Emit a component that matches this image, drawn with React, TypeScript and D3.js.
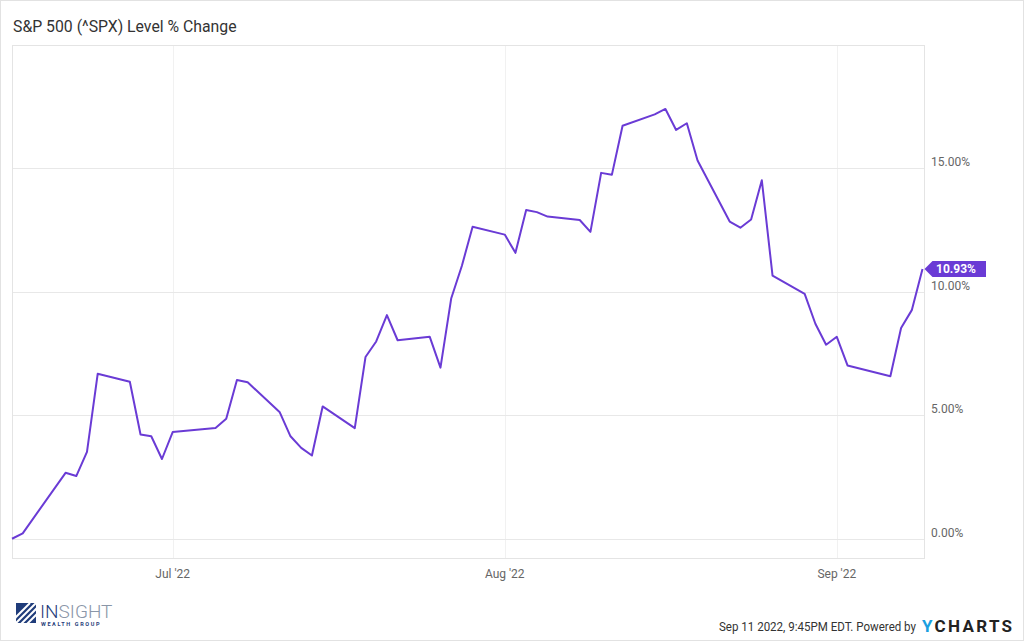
import React from "react";
import * as d3 from "d3";

const dates: string[] = [
  "2022-06-16","2022-06-17","2022-06-21","2022-06-22","2022-06-23","2022-06-24","2022-06-27","2022-06-28","2022-06-29","2022-06-30",
  "2022-07-01","2022-07-05","2022-07-06","2022-07-07","2022-07-08","2022-07-11","2022-07-12","2022-07-13","2022-07-14","2022-07-15",
  "2022-07-18","2022-07-19","2022-07-20","2022-07-21","2022-07-22","2022-07-25","2022-07-26","2022-07-27","2022-07-28","2022-07-29",
  "2022-08-01","2022-08-02","2022-08-03","2022-08-04","2022-08-05","2022-08-08","2022-08-09","2022-08-10","2022-08-11","2022-08-12",
  "2022-08-15","2022-08-16","2022-08-17","2022-08-18","2022-08-19","2022-08-22","2022-08-23","2022-08-24","2022-08-25","2022-08-26",
  "2022-08-29","2022-08-30","2022-08-31","2022-09-01","2022-09-02","2022-09-06","2022-09-07","2022-09-08","2022-09-09",
];
const pctChange: number[] = [
  0.0, 0.22, 2.67, 2.54, 3.52, 6.68, 6.36, 4.22, 4.15, 3.23,
  4.32, 4.49, 4.86, 6.43, 6.34, 5.12, 4.15, 3.68, 3.37, 5.36,
  4.48, 7.36, 7.99, 9.06, 8.04, 8.18, 6.93, 9.73, 11.06, 12.64,
  12.32, 11.58, 13.32, 13.23, 13.05, 12.91, 12.43, 14.82, 14.74, 16.73,
  17.19, 17.41, 16.56, 16.83, 15.32, 12.85, 12.60, 12.93, 14.52, 10.66,
  9.92, 8.71, 7.86, 8.18, 7.02, 6.58, 8.54, 9.26, 10.93,
];
const yTicks: number[] = [0, 5, 10, 15];
const xTicks: string[] = ["2022-07-01", "2022-08-01", "2022-09-01"];
const xTickLabels: string[] = ["Jul '22", "Aug '22", "Sep '22"];
const title = "S&P 500 (^SPX) Level % Change";
const lastLabel = "10.93%";

const W = 1024, H = 641;
const L = 12, R = 924, T = 45, B = 558;
const purple = "#6a3bd5";
const font = "Roboto, 'Noto Sans', sans-serif";

export default function App() {
  const parse = d3.utcParse("%Y-%m-%d");
  const data = dates.map((d, i) => ({ date: parse(d) as Date, v: pctChange[i] }));
  const x = d3.scaleUtc()
    .domain([parse("2022-06-16") as Date, parse("2022-09-09") as Date])
    .range([L, R - 1.5]);
  const y = d3.scaleLinear().domain([-0.78, 20]).range([B, T]);
  const line = d3.line<{ date: Date; v: number }>()
    .x((d) => x(d.date))
    .y((d) => y(d.v));
  const last = data[data.length - 1];
  const lx = x(last.date);
  const ly = y(last.v);

  return (
    <svg width={W} height={H} style={{ position: "absolute", left: 0, top: 0, background: "#fff" }} fontFamily={font}>
      <rect x={0.5} y={0.5} width={W - 1} height={H - 1} fill="#fff" stroke="#e2e2e2" />
      <text x={13} y={32} fontSize={15.8} fill="#333">{title}</text>

      {xTicks.map((t) => {
        const xx = Math.round(x(parse(t) as Date)) + 0.5;
        return <line key={t} x1={xx} x2={xx} y1={T} y2={B} stroke="#f1f1f1" />;
      })}
      {yTicks.map((t) => {
        const yy = Math.round(y(t)) + 0.5;
        return <line key={t} x1={L} x2={R} y1={yy} y2={yy} stroke="#e8e8e8" />;
      })}
      <rect x={L + 0.5} y={T + 0.5} width={R - L} height={B - T} fill="none" stroke="#e4e4e4" />

      {yTicks.map((t) => (
        <text key={t} x={931} y={y(t) - 2} fontSize={12} fill="#666">{t.toFixed(2) + "%"}</text>
      ))}
      {xTicks.map((t, i) => (
        <text key={t} x={x(parse(t) as Date)} y={578} fontSize={12} fill="#666" textAnchor="middle">{xTickLabels[i]}</text>
      ))}

      <path d={line(data) || ""} fill="none" stroke={purple} strokeWidth={2} strokeLinejoin="round" />

      <path d={`M${lx + 2},${ly} L${lx + 10},${ly - 8} L${986},${ly - 8} L${986},${ly + 8} L${lx + 10},${ly + 8} Z`} fill={purple} />
      <text x={936} y={ly + 4.5} fontSize={12} fontWeight="bold" fill="#fff">{lastLabel}</text>

      <g>
        <rect x={16} y={603} width={20} height={20} fill="#1f3c7a" />
        <clipPath id="lg"><rect x={16} y={603} width={20} height={20} /></clipPath>
        <g clipPath="url(#lg)" stroke="#fff" strokeWidth={2}>
          <line x1={12} y1={627} x2={36} y2={603} />
          <line x1={18} y1={627} x2={42} y2={603} />
          <line x1={24} y1={627} x2={48} y2={603} />
          <line x1={6} y1={627} x2={30} y2={603} />
        </g>
        <text x={40} y={618} fontSize={19} fill="#1f3c7a" fontWeight={300}>IN<tspan fill="#8a96a8">SIGHT</tspan></text>
        <text x={41} y={626} fontSize={5.5} fill="#1f3c7a" letterSpacing={1.6} fontWeight="bold">WEALTH GROUP</text>
      </g>
      <text x={916} y={631} fontSize={12} fill="#333" textAnchor="end" textLength={197} lengthAdjust="spacingAndGlyphs">Sep 11 2022, 9:45PM EDT. Powered by</text>
      <text x={922} y={632} fontSize={17} fontWeight="bold" letterSpacing={2.3} fill="#222">
        <tspan fill="#1aa0e0">Y</tspan>CHARTS
      </text>
    </svg>
  );
}
